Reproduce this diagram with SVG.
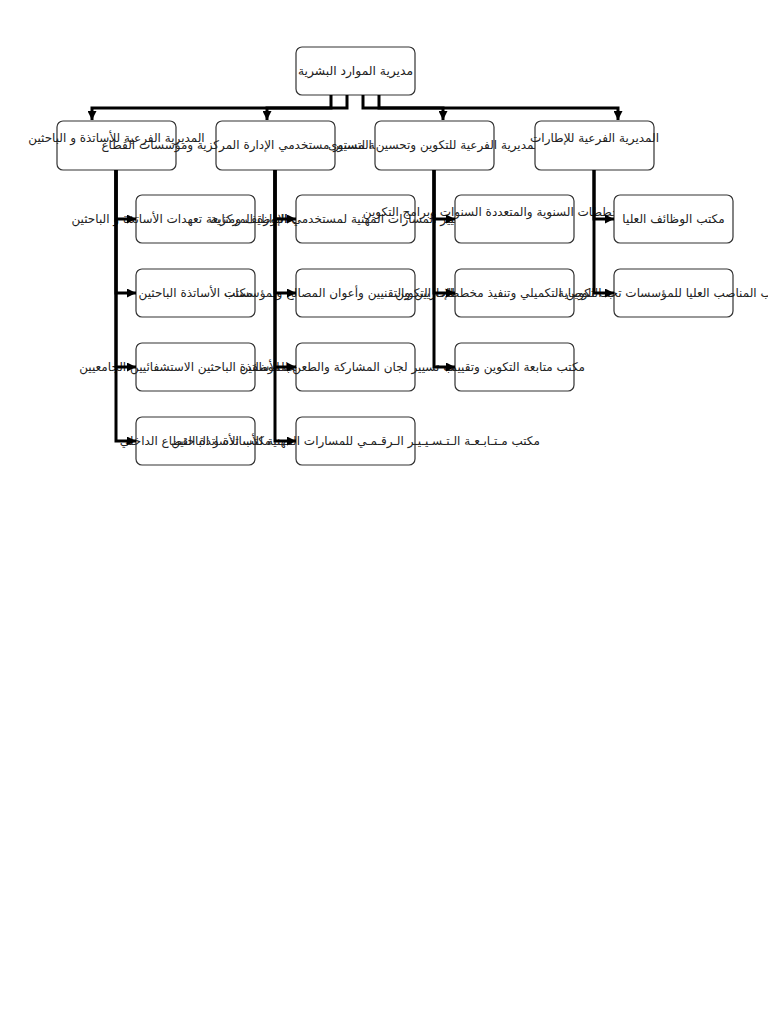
<svg xmlns="http://www.w3.org/2000/svg" width="768" height="1024" viewBox="0 0 768 1024">
<defs>
<style>
.box{fill:#fff;stroke:#333;stroke-width:1.2}
.t{font-family:"DejaVu Sans","Noto Sans",sans-serif;font-size:12px;fill:#222;text-anchor:middle;direction:rtl}
.c{fill:none;stroke:#000;stroke-width:3}
</style>
<marker id="ah" viewBox="0 0 10 10" refX="10" refY="5" markerWidth="9" markerHeight="9" markerUnits="userSpaceOnUse" orient="auto">
<path d="M0,0 L10,5 L0,10 Z" fill="#000"/>
</marker>
</defs>
<rect width="768" height="1024" fill="#fff"/>

<g id="root"><rect class="box" x="296" y="47" width="119" height="48" rx="6"/><text class="t" x="355.5" y="75" style="font-size:12.3px">مديرية الموارد البشرية</text></g>

<g id="sd1"><rect class="box" x="57" y="121" width="119" height="49" rx="6"/><text class="t" x="116.5" y="142">المديرية الفرعية للأساتذة و الباحثين</text></g>
<g id="sd2"><rect class="box" x="216" y="121" width="119" height="49" rx="6"/><text class="t" x="275.5" y="149">المديرية الفرعية لتسيير مستخدمي الإدارة المركزية ومؤسسات القطاع</text></g>
<g id="sd3"><rect class="box" x="375" y="121" width="119" height="49" rx="6"/><text class="t" x="434.5" y="149">المديرية الفرعية للتكوين وتحسين المستوى</text></g>
<g id="sd4"><rect class="box" x="535" y="121" width="119" height="49" rx="6"/><text class="t" x="594.5" y="142">المديرية الفرعية للإطارات</text></g>

<g id="b11"><rect class="box" x="136" y="195" width="119" height="48" rx="6"/><text class="t" x="195.5" y="223">مكتب التوظيف ومتابعة تعهدات الأساتذة و الباحثين</text></g>
<g id="b12"><rect class="box" x="136" y="269" width="119" height="48" rx="6"/><text class="t" x="195.5" y="297">مكتب الأساتذة الباحثين</text></g>
<g id="b13"><rect class="box" x="136" y="343" width="119" height="48" rx="6"/><text class="t" x="195.5" y="371">مكتب الأساتذة الباحثين الاستشفائيين الجامعيين</text></g>
<g id="b14"><rect class="box" x="136" y="417" width="119" height="48" rx="6"/><text class="t" x="195.5" y="445">مكتب الأساتذة القطاع الداخلي</text></g>

<g id="b21"><rect class="box" x="296" y="195" width="119" height="48" rx="6"/><text class="t" x="355.5" y="223">مكتب تسيير المسارات المهنية لمستخدمي الإدارة المركزية</text></g>
<g id="b22"><rect class="box" x="296" y="269" width="119" height="48" rx="6"/><text class="t" x="355.5" y="297">مكتب الإداريين والتقنيين وأعوان المصالح ولمؤسسات</text></g>
<g id="b23"><rect class="box" x="296" y="343" width="119" height="48" rx="6"/><text class="t" x="355.5" y="371">مكتب تسيير لجان المشاركة والطعن للموظفين</text></g>
<g id="b24"><rect class="box" x="296" y="417" width="119" height="48" rx="6"/><text class="t" x="355.5" y="445">مكتب مـتـابـعـة الـتـسـيـيـر الـرقـمـي للمسارات المهنية للأساتذة و الباحثين</text></g>

<g id="b31"><rect class="box" x="455" y="195" width="119" height="48" rx="6"/><text class="t" x="514.5" y="216">مكتب المخططات السنوية والمتعددة السنوات وبرامج التكوين</text></g>
<g id="b32"><rect class="box" x="455" y="269" width="119" height="48" rx="6"/><text class="t" x="514.5" y="297">مكتب التكوين التكميلي وتنفيذ مخططات التكوين</text></g>
<g id="b33"><rect class="box" x="455" y="343" width="119" height="48" rx="6"/><text class="t" x="514.5" y="371">مكتب متابعة التكوين وتقييمه</text></g>

<g id="b41"><rect class="box" x="614" y="195" width="119" height="48" rx="6"/><text class="t" x="673.5" y="223">مكتب الوظائف العليا</text></g>
<g id="b42"><rect class="box" x="614" y="269" width="119" height="48" rx="6"/><text class="t" x="673.5" y="297">مكتب المناصب العليا للمؤسسات تحت الوصاية</text></g>

<g id="connectors">
<path class="c" d="M331,95 V108 H92 V120" marker-end="url(#ah)"/>
<path class="c" d="M347,95 V108 H267 V120" marker-end="url(#ah)"/>
<path class="c" d="M363,95 V108 H443 V120" marker-end="url(#ah)"/>
<path class="c" d="M379,95 V108 H618 V120" marker-end="url(#ah)"/>
<path class="c" d="M116,170 V219 H136" marker-end="url(#ah)"/>
<path class="c" d="M116,170 V293 H136" marker-end="url(#ah)"/>
<path class="c" d="M116,170 V367 H136" marker-end="url(#ah)"/>
<path class="c" d="M116,170 V441 H136" marker-end="url(#ah)"/>
<path class="c" d="M275,170 V219 H296" marker-end="url(#ah)"/>
<path class="c" d="M275,170 V293 H296" marker-end="url(#ah)"/>
<path class="c" d="M275,170 V367 H296" marker-end="url(#ah)"/>
<path class="c" d="M275,170 V441 H296" marker-end="url(#ah)"/>
<path class="c" d="M434,170 V219 H455" marker-end="url(#ah)"/>
<path class="c" d="M434,170 V293 H455" marker-end="url(#ah)"/>
<path class="c" d="M434,170 V367 H455" marker-end="url(#ah)"/>
<path class="c" d="M594,170 V219 H614" marker-end="url(#ah)"/>
<path class="c" d="M594,170 V293 H614" marker-end="url(#ah)"/>
</g>
</svg>
